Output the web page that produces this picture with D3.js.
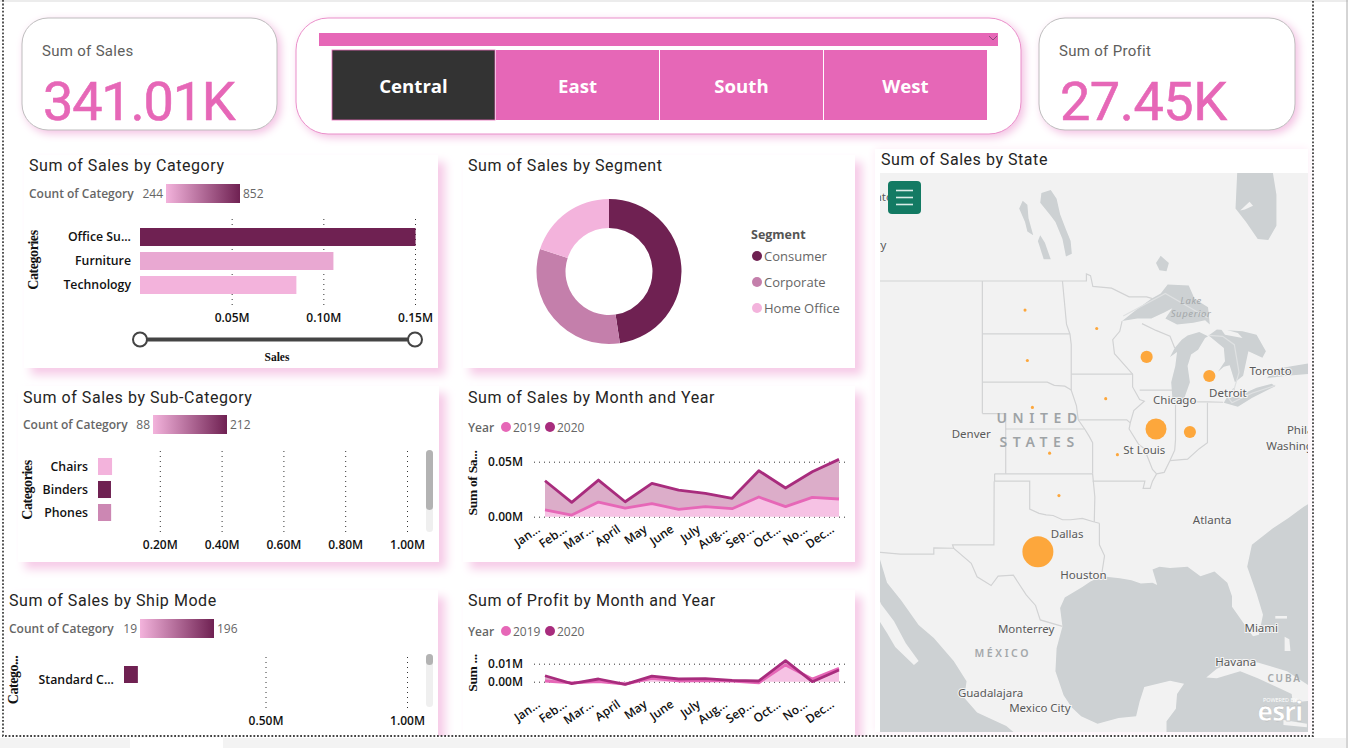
<!DOCTYPE html>
<html><head><meta charset="utf-8">
<script src="https://cdn.jsdelivr.net/npm/d3@7/dist/d3.min.js"></script>
<style>
html,body{margin:0;padding:0;background:#fff;overflow:hidden}
svg{display:block}
text{font-family:"Open Sans",sans-serif}
.din{font-family:Roboto,sans-serif}
.serif{font-family:"Liberation Serif",serif;font-weight:700}
.dot line{stroke:#333;stroke-width:1;stroke-dasharray:1 4}
.tick text{font-family:"Open Sans",sans-serif;font-weight:600;fill:#111}
</style></head><body>
<svg id="c" width="1348" height="748"></svg>
<script>
// ---------- data ----------
const regions = ["Central","East","South","West"];
const categoryNames = ["Office Su...","Furniture","Technology"];
const categorySales = [150300,105500,85300];
const categoryCounts = [852,290,244];
const subNames = ["Chairs","Binders","Phones"];
const subSales = [45500,42000,42500];
const subCounts = [88,212,125];
const shipNames = ["Standard C..."];
const shipSales = [49000];
const shipCounts = [196];
const segmentNames = ["Consumer","Corporate","Home Office"];
const segmentSales = [162300,110600,68100];
const months = ["Jan...","Feb...","Mar...","April","May","June","July","Aug...","Sep...","Oct...","No...","Dec..."];
const years = ["2019","2020"];
const sales2019 = [6100,1500,13300,7900,11800,6700,9100,7300,17900,9100,17600,16100];
const sales2020 = [26600,11500,20000,5700,18500,17500,12100,9400,23900,17000,23300,36000];
const profit2019 = [400,-600,0,-1300,1900,400,600,400,-600,9300,1500,7400];
const profit2020 = [2900,-500,1500,-200,1200,1100,1100,300,1000,2400,-1500,-900];
const stateNames = ["Texas","Illinois","Wisconsin","Michigan","Indiana","North Dakota","Minnesota","South Dakota","Iowa","Nebraska","Kansas","Missouri","Oklahoma"];
const stateLon = [-99.3,-89.2,-90.0,-84.64,-86.3,-100.4,-94.27,-100.2,-93.5,-99.77,-98.3,-92.5,-97.5];
const stateLat = [31.5,40.0,44.56,43.38,39.8,47.34,46.26,44.34,41.96,41.4,38.4,38.3,35.5];
const stateSales = [170000,78000,26000,26000,26000,1700,1700,1700,1700,1700,1700,1700,1700];

// base-map geography in lon/lat (hand-traced)
const waterGulf = [[-97.2,25.9],[-97.4,27.3],[-97.0,28.1],[-95.5,28.9],[-94.8,29.3],[-93.85,29.7],[-92.3,29.55],[-91.3,29.4],[-90.5,29.15],[-89.5,29.2],[-89.1,29.05],[-89.5,30.2],[-88.9,30.4],[-88,30.3],[-86.5,30.4],[-85.4,29.7],[-84.2,30.05],[-83.1,29.2],[-82.7,28.2],[-82.7,27.4],[-81.9,26.4],[-81.3,25.6],[-80.9,25.15],[-80.4,25.25],[-80.05,26.8],[-80.6,28.4],[-81.4,30.4],[-81,32],[-79.2,33.2],[-77.9,33.9],[-76.6,34.7],[-75.5,35.25],[-70,35.25],[-70,15],[-88.3,15],[-88.3,18.4],[-87.5,19.4],[-87.4,20.6],[-86.8,21.4],[-88,21.65],[-90.2,21.15],[-90.6,20],[-90.9,18.8],[-92.4,18.65],[-94.2,18.2],[-95.6,18.8],[-96.4,19.5],[-97.1,20.5],[-97.8,22.4],[-97.7,24.2]];
const waterPacific = [[-114,31.5],[-112.9,31.2],[-112.2,29.2],[-111,27.9],[-109.5,26],[-108.2,25],[-106.5,23.2],[-105.4,21.6],[-105.6,20.3],[-104.5,19.1],[-102,18],[-101,17.2],[-101,16],[-116,16],[-116,31.5]];
const landBaja = [[-115,31],[-114.4,30.2],[-113.2,28.6],[-112.7,27.6],[-111.6,26.3],[-110.6,24.6],[-109.5,23.2],[-109.9,22.9],[-111.5,24.3],[-112.2,25.4],[-113.2,26.8],[-114.5,27.9],[-116,30]];
const lakes = [
 [[-92.1,46.7],[-90.8,46.85],[-89.6,46.85],[-88.5,47.2],[-87.8,47.45],[-88.4,46.85],[-87.4,46.5],[-86,46.6],[-85,46.75],[-84.6,46.5],[-84.75,47.5],[-85.9,48.0],[-86.4,48.75],[-88.2,48.8],[-88.8,48.3],[-89.6,48],[-90.8,47.4]],
 [[-87.5,41.65],[-86.9,41.75],[-86.3,43],[-86.5,44],[-86.2,44.7],[-85.6,45],[-85,45.7],[-84.75,45.8],[-85.5,46.05],[-86.5,45.85],[-87,45.6],[-87.6,45.1],[-88,44.55],[-87.4,44.85],[-87.55,44],[-87.9,43],[-87.8,42]],
 [[-84.7,45.85],[-83.4,45.1],[-83.3,44.3],[-83.9,43.65],[-83.4,43.95],[-82.9,44.05],[-82.45,43],[-81.75,43.4],[-81.3,44.9],[-80.1,44.5],[-79.8,44.9],[-80.6,45.9],[-81.8,46.1],[-84,46.2]],
 [[-83.4,41.7],[-82.2,41.45],[-81,42],[-79,42.75],[-79.3,42.9],[-80.6,42.65],[-82.4,42.05],[-83.1,42.1]],
 [[-79.7,43.25],[-78,43.4],[-76.2,43.5],[-76.2,44.15],[-77.5,44],[-79.1,43.8]],
 [[-82.7,42.55],[-82.45,42.4],[-82.5,42.65]],
 [[-96.9,50.35],[-96.4,50.5],[-96.5,51.2],[-96.9,51.8],[-97.4,52.6],[-97.7,53.4],[-98.2,53.85],[-99,53.7],[-99.1,53.2],[-98.3,52.6],[-97.8,52.2],[-97.2,51.3]],
 [[-98.2,50.2],[-98.8,50.2],[-99.3,51.2],[-99.1,51.5],[-98.7,51.1]],
 [[-99.7,51.5],[-100.2,51.7],[-100.4,52.2],[-100.9,52.9],[-100.6,53.3],[-100.2,53.1],[-100.1,52.4]],
 [[-88.9,49.6],[-88.3,49.55],[-88.1,50],[-88.8,50.4],[-89.2,50]],
 [[-82.4,52.9],[-82.2,55.4],[-79.4,55.4],[-78.9,53.6],[-78.9,52],[-79.6,51.25],[-80.5,51.3],[-81.5,52.2]]
];
const landIslands = [
 [[-84.9,21.9],[-84,22.6],[-82.5,23.15],[-80.5,23.1],[-78,22.4],[-76,21.2],[-74.5,20.2],[-77.5,19.9],[-77.6,20.6],[-78.5,21],[-80.5,21.85],[-82,22.4],[-84,21.85]],
 [[-78.2,25.1],[-77.8,24.9],[-77.7,24],[-78.2,24]],
 [[-79,26.7],[-78,26.7],[-78,26.5],[-79,26.5]],
 [[-78.3,18.5],[-76.3,18.2],[-76.3,17.9],[-78.3,18.1]],
 [[-82,52.8],[-81.2,53.25],[-80.9,53.05],[-81.6,52.85]],
 [[-83.7,46.3],[-82.2,46],[-81.8,45.7],[-83.3,45.9]]
];
const borders = [
 [[-113.5,49],[-95.15,49],[-95.15,49.4],[-94.8,49.3],[-94.6,48.7],[-93,48.6],[-91.5,48.1],[-90,48.1],[-89.5,48]],
 [[-104.05,49],[-104.05,41]],
 [[-104.05,45.94],[-96.56,45.94]],
 [[-104.05,43],[-98.5,43],[-97.9,42.8],[-97,42.75],[-96.45,42.5]],
 [[-104.05,41],[-102.05,41],[-102.05,37]],
 [[-102.05,40],[-95.3,40]],
 [[-103,37],[-94.62,37]],
 [[-103,37],[-103,36.5],[-100,36.5],[-100,34.56],[-99.2,34.25],[-98.6,34.15],[-98,34.1],[-97.2,33.8],[-96.5,33.8],[-95.5,33.9],[-94.48,33.64]],
 [[-103.04,36.5],[-103.06,32],[-106.6,32],[-106.5,31.75]],
 [[-113.5,31.5],[-111.07,31.33],[-108.2,31.33],[-108.2,31.78],[-106.5,31.75],[-105,30.65],[-104.5,29.65],[-103.3,29],[-102.7,29.7],[-101.4,29.77],[-100.3,28.3],[-99.5,27.5],[-99.1,26.4],[-97.2,25.9]],
 [[-94.62,37],[-94.43,35.4],[-94.48,33.64]],
 [[-94.04,33.55],[-94.04,32],[-93.6,31.2],[-93.8,30.1],[-93.85,29.7]],
 [[-94.48,33.64],[-94.04,33.55]],
 [[-94.62,37],[-94.62,39.1],[-94.9,39.5],[-95.3,40],[-95.85,40.6],[-96,41.5],[-96.45,42.5],[-96.45,45.3],[-96.56,45.94],[-96.85,46.5],[-97.2,49]],
 [[-95.77,40.6],[-91.7,40.6],[-91.4,40.4]],
 [[-96.45,43.5],[-91.2,43.5]],
 [[-94.62,36.5],[-90.15,36.5],[-90.3,36],[-89.7,36],[-89.5,36.5],[-89.15,37]],
 [[-92.1,46.7],[-92.3,46.1],[-92.9,45.6],[-92.75,44.75],[-91.2,43.5],[-91.2,42.7],[-90.6,41.9],[-90.2,41.8],[-91.1,41.2],[-91.4,40.4],[-91.5,40],[-90.7,39],[-90.2,38.7],[-89.5,37.3],[-89.15,37]],
 [[-90.6,42.5],[-87.8,42.5]],
 [[-87.53,41.7],[-87.53,39.3],[-87.6,38.6],[-88,37.9],[-88.5,37.1],[-89.15,37]],
 [[-88,37.9],[-86.5,38],[-85.5,38.7],[-84.8,39.1],[-84.8,41.7]],
 [[-87,41.76],[-84.8,41.76],[-83.45,41.73]],
 [[-87.6,45.1],[-88,45.8],[-89.2,46.15],[-90.4,46.55]]
];
const lakeLines = [
 [[-92,47],[-88.4,48.3],[-84.8,46.9]],
 [[-84.7,45.85],[-83.5,45.8],[-82.5,45.3],[-82.1,43.6],[-82.5,42.6],[-83.1,42.1],[-82.7,41.7],[-81,42.3],[-79,42.8]]
];
const cities = [
 ["Edmonton",-113.5,53.5],["Calgary",-114,51],["Chicago",-87.6,41.85],["Detroit",-83.05,42.33],["Toronto",-79.4,43.7],
 ["St Louis",-90.2,38.6],["Denver",-105,39.7],["Dallas",-96.8,32.8],["Houston",-95.4,29.8],["Atlanta",-84.4,33.75],
 ["Monterrey",-100.3,25.7],["Guadalajara",-103.35,20.67],["Mexico City",-99.13,19.43],["Havana",-82.38,23.13],
 ["Miami",-80.2,25.77],["Philadelphia",-75.16,39.95],["Washington",-77,38.9]
];

// ---------- palette ----------
const PINK="#e667b7", DARK="#6f2152", LIGHT="#f3b3dc", Y20="#a82c7d", TXT="#252423", GRAY="#666";
const svg=d3.select("#c");
const defs=svg.append("defs");
function shadow(id,dx,dy,sd,col){
  const f=defs.append("filter").attr("id",id).attr("x","-15%").attr("y","-15%").attr("width","135%").attr("height","135%");
  f.append("feDropShadow").attr("dx",dx).attr("dy",dy).attr("stdDeviation",sd).attr("flood-color",col).attr("flood-opacity",1);
}
shadow("sh",7,7,5,"#f6cbe7");
shadow("shk",3,3,4,"#f3bfe2");
shadow("sh0",0,0,4,"#fdeaf6");
defs.append("filter").attr("id","soft").append("feGaussianBlur").attr("stdDeviation",.4);
const grad=defs.append("linearGradient").attr("id","g");
grad.append("stop").attr("offset","0").attr("stop-color",LIGHT);
grad.append("stop").attr("offset","1").attr("stop-color",DARK);

// ---------- chrome ----------
svg.append("rect").attr("width",1348).attr("height",2).attr("fill","#ececec");
svg.append("line").attr("x1",1347).attr("x2",1347).attr("y1",0).attr("y2",748).attr("stroke","#aaa");

// ---------- KPI cards ----------
function kpi(x,w,label,val,vx,sp){
  svg.append("rect").attr("x",x).attr("y",18).attr("width",w).attr("height",112).attr("rx",26)
    .attr("fill","#fff").attr("stroke","#bdbdbd").attr("filter","url(#shk)");
  svg.append("text").attr("class","din").attr("x",x+20).attr("y",56).attr("font-size",15).attr("letter-spacing",.3).attr("fill","#605e5c").text(label);
  svg.append("text").attr("class","din").attr("x",vx).attr("y",120).attr("font-size",54).attr("letter-spacing",sp)
    .attr("fill",PINK).attr("stroke",PINK).attr("stroke-width",.6).text(val);
}
kpi(22,255,"Sum of Sales","341.01K",43,-1.2);
kpi(1039,256,"Sum of Profit","27.45K",1060,-.5);

// ---------- slicer ----------
svg.append("rect").attr("x",296).attr("y",18).attr("width",725).attr("height",116).attr("rx",32)
  .attr("fill","#fff").attr("stroke","#ea8fca").attr("filter","url(#shk)");
svg.append("rect").attr("x",319).attr("y",33).attr("width",679).attr("height",13).attr("fill",PINK);
svg.append("path").attr("d",d3.line()([[989,36],[993,40],[997,36]])).attr("fill","none").attr("stroke","#8a4a78");
const bx=d3.scaleBand().domain(regions).range([332,987]).paddingInner(.006);
regions.forEach((r,i)=>{
  svg.append("rect").attr("x",bx(r)).attr("y",50).attr("width",bx.bandwidth()).attr("height",70)
    .attr("fill",i?PINK:"#333").attr("stroke",i?"none":PINK).attr("stroke-width",.8);
  svg.append("text").attr("x",bx(r)+bx.bandwidth()/2).attr("y",92.5).attr("text-anchor","middle")
    .attr("font-size",18.6).attr("font-weight",700).attr("fill","#fff").text(r);
});

// ---------- panels ----------
function panel(x,y,w,h,title,tx,ty,f){
  svg.append("rect").attr("x",x).attr("y",y).attr("width",w).attr("height",h).attr("fill","#fff").attr("filter",`url(#${f||"sh"})`);
  svg.append("text").attr("class","din").attr("x",tx).attr("y",ty).attr("font-size",16).attr("letter-spacing",.55).attr("fill",TXT).text(title);
}
panel(875,149,433,583,"Sum of Sales by State",881,165,"sh0");
panel(24,155,414,213,"Sum of Sales by Category",29,171);
panel(463,155,392,213,"Sum of Sales by Segment",468,171);
panel(18,386,421,176,"Sum of Sales by Sub-Category",23,403);
panel(463,386,392,176,"Sum of Sales by Month and Year",468,403);
panel(8,590,430,150,"Sum of Sales by Ship Mode",9,606);
panel(463,590,392,150,"Sum of Profit by Month and Year",468,606);

const fmtM=d=>(d/1e6).toFixed(2)+"M";

function barChart(o){
  const g=svg.append("g");
  g.append("text").attr("x",o.lx).attr("y",o.ly).attr("font-size",12).attr("font-weight",600).attr("fill",GRAY).text("Count of Category");
  g.append("text").attr("x",o.gx-3).attr("y",o.ly).attr("text-anchor","end").attr("font-size",12).attr("fill",GRAY).text(o.cmin);
  g.append("rect").attr("x",o.gx).attr("y",o.ly-14).attr("width",74).attr("height",19).attr("fill","url(#g)");
  g.append("text").attr("x",o.gx+77).attr("y",o.ly).attr("font-size",12).attr("fill",GRAY).text(o.cmax);
  const x=d3.scaleLinear().domain([0,o.vmax]).range([o.x0,o.x1]);
  const y=d3.scaleBand().domain(o.names).range(o.yr).paddingInner(o.pi).paddingOuter(o.po);
  const col=d3.scaleLinear().domain([o.cmin,o.cmax]).range([LIGHT,DARK]);
  const axis=d3.axisBottom(x).tickValues(o.ticks).tickFormat(fmtM).tickSize(-(o.gb-o.gt)).tickPadding(8);
  const ag=g.append("g").attr("class","dot").attr("transform",`translate(0,${o.gb})`).call(axis);
  ag.select(".domain").remove();
  ag.selectAll("text").attr("font-size",12);
  g.selectAll(null).data(o.names).join("rect")
    .attr("x",x(0)).attr("y",d=>y(d)).attr("height",y.bandwidth())
    .attr("width",(d,i)=>x(o.vals[i])-x(0)).attr("fill",(d,i)=>col(o.counts[i]));
  g.selectAll(null).data(o.names).join("text")
    .attr("x",o.labx).attr("y",d=>y(d)+y.bandwidth()/2+o.ldy).attr("text-anchor","end")
    .attr("font-size",12.3).attr("font-weight",600).attr("fill","#111").text(d=>d);
  g.append("text").attr("class","serif").attr("transform",`translate(${o.tx},${o.ty}) rotate(-90)`)
    .attr("text-anchor","middle").attr("font-size",14).attr("letter-spacing",-.45).attr("fill","#111").text(o.ytitle);
  return x;
}
const x1=barChart({names:categoryNames,vals:categorySales,counts:categoryCounts,cmin:244,cmax:852,lx:29,ly:198,gx:166,
  vmax:150000,x0:140,x1:415,yr:[225,297],pi:.25,po:.125,gt:218,gb:305,ticks:[50000,100000,150000],labx:131,ldy:4,tx:38,ty:260,ytitle:"Categories"});
const x2=barChart({names:subNames,vals:subSales,counts:subCounts,cmin:88,cmax:212,lx:23,ly:429,gx:153,
  vmax:1000000,x0:98,x1:407,yr:[455,524],pi:.26,po:.13,gt:451,gb:532,ticks:[200000,400000,600000,800000,1000000],labx:88,ldy:4,tx:32,ty:490,ytitle:"Categories"});
const x3=barChart({names:shipNames,vals:shipSales,counts:shipCounts,cmin:19,cmax:196,lx:9,ly:633,gx:140,
  vmax:1000000,x0:124,x1:407,yr:[666,683],pi:0,po:0,gt:656,gb:708,ticks:[500000,1000000],labx:114,ldy:9,tx:18,ty:680,ytitle:"Catego..."});

// slider
svg.append("line").attr("x1",x1(0)).attr("x2",x1(150000)).attr("y1",339.5).attr("y2",339.5).attr("stroke","#444").attr("stroke-width",4);
[0,150000].forEach(v=>svg.append("circle").attr("cx",x1(v)).attr("cy",339.5).attr("r",7).attr("fill","#fff").attr("stroke","#444").attr("stroke-width",2));
svg.append("text").attr("class","serif").attr("x",277).attr("y",361).attr("text-anchor","middle").attr("font-size",11.5).attr("fill","#111").text("Sales");

// scrollbars
function scroll(x,y,h,th){
  svg.append("rect").attr("x",x).attr("y",y).attr("width",7).attr("height",h).attr("rx",3.5).attr("fill","#efefef");
  svg.append("rect").attr("x",x).attr("y",y).attr("width",7).attr("height",th).attr("rx",3.5).attr("fill","#b3b3b3");
}
scroll(426,450,82,60);
scroll(426,654,53,11);

// ---------- donut ----------
const pie=d3.pie().sort(null)(segmentSales);
const arc=d3.arc().innerRadius(43.5).outerRadius(72.5);
const segCol=d3.scaleOrdinal(segmentNames,[DARK,"#c47fab",LIGHT]);
svg.append("g").attr("transform","translate(609,271.5)").selectAll("path").data(pie).join("path")
  .attr("d",arc).attr("fill",(d,i)=>segCol(segmentNames[i]));
svg.append("text").attr("x",751).attr("y",239).attr("font-size",12.5).attr("font-weight",700).attr("fill","#555").text("Segment");
const ly=d3.scalePoint().domain(segmentNames).range([256,308]);
segmentNames.forEach(n=>{
  svg.append("circle").attr("cx",757).attr("cy",ly(n)).attr("r",5).attr("fill",segCol(n));
  svg.append("text").attr("x",764).attr("y",ly(n)+5).attr("font-size",13).attr("fill",GRAY).text(n);
});

// ---------- stacked areas ----------
function areaChart(o){
  const g=svg.append("g");
  g.append("text").attr("x",468).attr("y",o.ly).attr("font-size",12).attr("font-weight",600).attr("fill",GRAY).text("Year");
  [[506,years[0],PINK],[550,years[1],Y20]].forEach(([cx,t,c])=>{
    g.append("circle").attr("cx",cx).attr("cy",o.ly-5).attr("r",5).attr("fill",c);
    g.append("text").attr("x",cx+7).attr("y",o.ly).attr("font-size",12).attr("fill",GRAY).text(t);
  });
  const x=d3.scalePoint().domain(months).range([545,839]);
  const y=d3.scaleLinear().domain([0,o.ymax]).range(o.yr);
  const ax=d3.axisLeft(y).tickValues([0,o.ymax]).tickFormat(fmtM).tickSize(-315).tickPadding(11);
  const ag=g.append("g").attr("class","dot").attr("transform","translate(534,0)").call(ax);
  ag.select(".domain").remove();
  ag.selectAll("text").attr("font-size",12);
  const rows=months.map((m,i)=>({m,a:o.a[i],b:o.b[i]}));
  const st=d3.stack().keys(["a","b"])(rows);
  const area=d3.area().x(d=>x(d.data.m)).y0(d=>y(d[0])).y1(d=>y(d[1]));
  const line=d3.line().x(d=>x(d.data.m)).y(d=>y(d[1]));
  const fills=["#f6c2e4","#dcadc9"], strokes=[PINK,Y20];
  st.forEach((s,i)=>g.append("path").attr("d",area(s)).attr("fill",fills[i]));
  st.forEach((s,i)=>g.append("path").attr("d",line(s)).attr("fill","none").attr("stroke",strokes[i]).attr("stroke-width",2.8).attr("stroke-linejoin","round"));
  months.forEach(m=>{
    g.append("text").attr("transform",`translate(${x(m)-4},${o.my}) rotate(-35)`).attr("text-anchor","end")
      .attr("font-size",12).attr("font-weight",600).attr("fill","#111").text(m);
  });
  g.append("text").attr("class","serif").attr("transform",`translate(477,${o.ty}) rotate(-90)`).attr("text-anchor","middle")
    .attr("font-size",13.5).attr("letter-spacing",-.3).attr("fill","#111").text(o.title);
}
areaChart({a:sales2019,b:sales2020,ymax:50000,yr:[516.7,461.7],ly:432,my:531,ty:483,title:"Sum of Sa..."});
areaChart({a:profit2019,b:profit2020,ymax:10000,yr:[681.7,663.7],ly:636,my:706,ty:673,title:"Sum ..."});

// ---------- map ----------
const proj=d3.geoMercator().scale(670).center([-89.2,40]).translate([1156,429]);
defs.append("clipPath").attr("id","mc").append("rect").attr("x",880).attr("y",173).attr("width",428).attr("height",559);
const m=svg.append("g").attr("clip-path","url(#mc)");
const LAND="#f2f2f2", WATER="#cdd1d3";
m.append("rect").attr("x",880).attr("y",173).attr("width",428).attr("height",559).attr("fill",LAND);
const base=m.append("g").attr("filter","url(#soft)");
const geo=d3.line().x(d=>proj(d)[0]).y(d=>proj(d)[1]);
const poly=d=>geo(d)+"Z";
[waterGulf,waterPacific,...lakes].forEach(p=>base.append("path").attr("d",poly(p)).attr("fill",WATER));
[landBaja,...landIslands].forEach(p=>base.append("path").attr("d",poly(p)).attr("fill",LAND));
lakeLines.forEach(p=>base.append("path").attr("d",geo(p)).attr("fill","none").attr("stroke","#dfe1e2").attr("stroke-width",1.2));
borders.forEach(p=>base.append("path").attr("d",geo(p)).attr("fill","none").attr("stroke","#d2d3d4").attr("stroke-width",1.2));
cities.forEach(([n,lon,lat])=>{
  const p=proj([lon,lat]);
  m.append("text").attr("x",p[0]).attr("y",p[1]+4).attr("text-anchor","middle")
    .attr("style","font-family:'Noto Sans';paint-order:stroke").attr("font-size",11.5).attr("fill","#5a5a5a")
    .attr("stroke","#f5f5f5").attr("stroke-width",2).text(n);
});
function place(t,lon,lat,size,sp,col,w,st){
  const p=proj([lon,lat]);
  m.append("text").attr("x",p[0]).attr("y",p[1]).attr("text-anchor","middle").attr("font-size",size)
    .attr("letter-spacing",sp).attr("fill",col).attr("font-weight",w||400).attr("font-style",st||"normal")
    .attr("style","font-family:'Noto Sans'").text(t);
}
place("UNITED",-99.15,40.39,14,5.6,"#9ea3a6",600);
place("STATES",-99.15,38.82,14,5.6,"#9ea3a6",600);
place("MÉXICO",-102.3,23.55,10.5,2.6,"#a4a8aa",600);
place("CUBA",-78.2,21.55,10,1.8,"#a4a8aa",600);
place("Lake",-86.2,47.67,9.5,.6,"#a4a8aa",400,"italic");
place("Superior",-86.2,46.92,9.5,.6,"#a4a8aa",400,"italic");
const r=d3.scaleSqrt().domain([0,170000]).range([0,15.5]);
m.selectAll(null).data(stateNames).join("circle")
  .attr("cx",(d,i)=>proj([stateLon[i],stateLat[i]])[0])
  .attr("cy",(d,i)=>proj([stateLon[i],stateLat[i]])[1])
  .attr("r",(d,i)=>r(stateSales[i])).attr("fill","#fda73c");
m.append("text").attr("x",1280).attr("y",702).attr("text-anchor","middle").attr("font-size",5.5).attr("fill","#fff").text("POWERED BY");
m.append("text").attr("x",1280).attr("y",721).attr("text-anchor","middle").attr("font-size",26).attr("font-weight",700)
  .attr("letter-spacing",-.8).attr("fill","#fff").attr("stroke","#aaa").attr("stroke-width",.3).text("esri");
svg.append("rect").attr("x",888).attr("y",181).attr("width",33).attr("height",33).attr("rx",4).attr("fill","#137a63");
[190.5,197.5,204.5].forEach(v=>svg.append("line").attr("x1",896).attr("x2",913).attr("y1",v).attr("y2",v).attr("stroke","#d9ece7").attr("stroke-width",1.6));

// ---------- bottom band and outer dotted frame ----------
svg.append("rect").attr("y",736).attr("width",1346).attr("height",12).attr("fill","#fff");
svg.append("rect").attr("y",738).attr("width",1346).attr("height",10).attr("fill","#f3f3f3");
svg.append("rect").attr("x",130).attr("y",738).attr("width",93).attr("height",10).attr("fill","#fff");
svg.append("path").attr("d","M3,0V736H1313V0").attr("fill","none").attr("stroke","#444").attr("stroke-width",1.8).attr("stroke-dasharray","1.8 1.8");
</script>
</body></html>
